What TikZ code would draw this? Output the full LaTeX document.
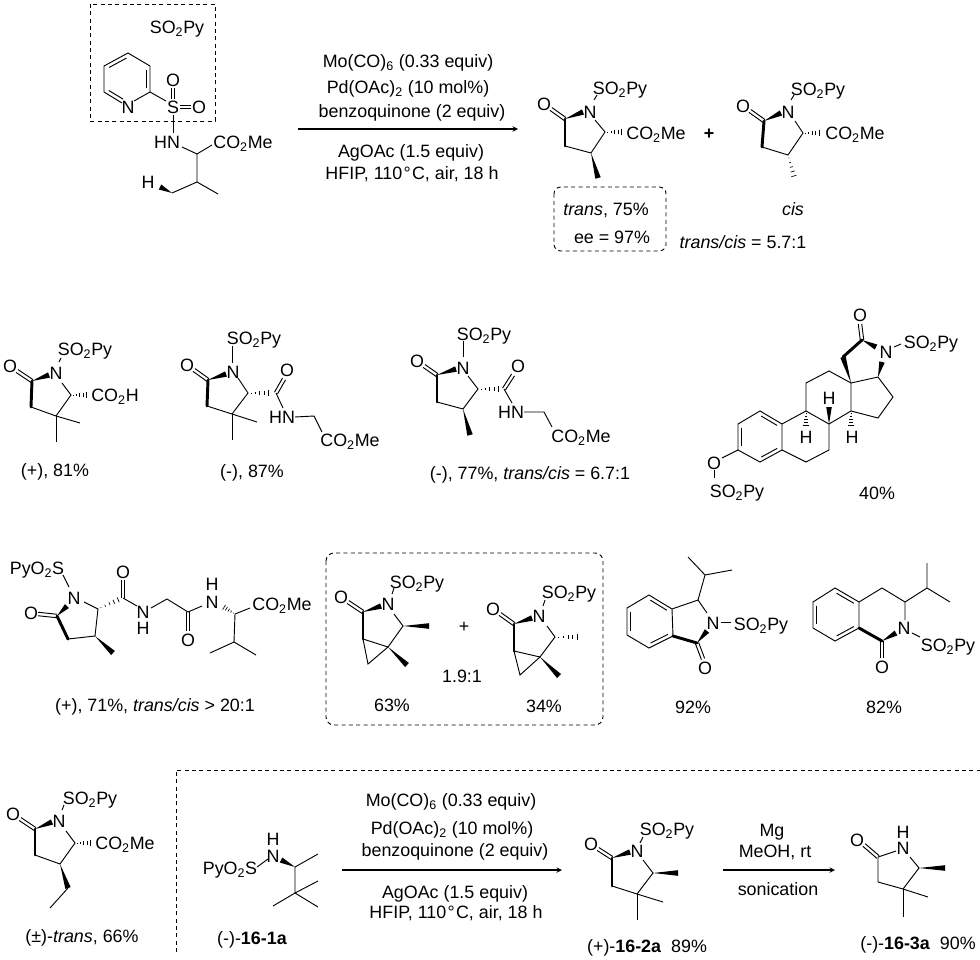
\documentclass[tikz,border=0pt]{standalone}
\usepackage{fontspec}
\setmainfont{Liberation Sans}
\usetikzlibrary{calc}
\tikzset{
    bond/.style={line width=.7pt},
    boldb/.style={line width=2.2pt,line cap=round},
    chem/.style={inner sep=0pt,text height=9.6pt,text depth=0pt,font=\fontsize{13.4}{15}\selectfont},
    dbox/.style={line width=.7pt,dash pattern=on 3pt off 2.5pt},
    rxn/.style={line width=.8pt,-stealth}
}
\newcommand{\SP}{SO\textsubscript{2}Py}
\newcommand{\CM}{CO\textsubscript{2}Me}
\newcommand{\lab}[3]{\node[chem] (#1) at (#2) {#3};}
\newcommand{\wdg}[2]{\fill (#1) -- ($(#2)!2.1pt!90:(#1)$) -- ($(#2)!2.1pt!-90:(#1)$) -- cycle;}
\newcommand{\hsh}[2]{\foreach \t in {.12,.3,...,.96}{
    \pgfmathsetmacro\w{\t*2.4}
    \draw[line width=.5pt] ($(#1)!\t!(#2)!\w pt!90:(#1)$) -- ($(#1)!\t!(#2)!\w pt!-90:(#1)$);
}}
\newcommand{\dbl}[2]{
    \draw[bond] ($(#1)!1.3pt!90:(#2)$) -- ($(#2)!1.3pt!-90:(#1)$);
    \draw[bond] ($(#1)!1.3pt!-90:(#2)$) -- ($(#2)!1.3pt!90:(#1)$);
}
\newcommand{\inr}[2]{\draw[bond] ($(#1)!.14!(#2)!2.8pt!90:(#2)$) -- ($(#1)!.86!(#2)!2.8pt!90:(#2)$);}
\begin{document}
\begin{tikzpicture}[x=.75pt,y=-.75pt]
    \useasboundingbox (0,0) rectangle (980,959);

    % substrate
    \draw[dbox] (90,4) rectangle (215,121);
    \lab{s1}{177,27}{\SP}
    \lab{n1}{128,107}{N}
    \lab{su}{173,107}{S}
    \lab{o1}{173,80}{O}
    \lab{o2}{199,107}{O}
    \lab{hn}{167,142}{HN}
    \lab{c1}{243,142}{\CM}
    \lab{h1}{148,182}{H}
    \draw[bond] (122,103) -- (104,92) -- (104,66) -- (128,53) -- (150,66) -- (150,92) -- (134,101);
    \inr{128,53}{104,66} \inr{104,92}{124,104} \inr{150,92}{150,66}
    \draw[bond] (150,92) -- (166,101);
    \dbl{173,99}{173,88}
    \dbl{180,107}{191,107}
    \draw[bond] (173,115) -- (173,133);
    \draw[bond] (182,147) -- (197,154) -- (212,145);
    \draw[bond] (197,154) -- (197,182) -- (218,194);
    \draw[bond] (197,182) -- (172,193);
    \wdg{172,193}{160,187}

    % first arrow
    \coordinate (a1s) at (298,129);
    \coordinate (a1e) at (518,129);
    \draw[rxn] (a1s) -- (a1e);
    \lab{m1}{408,61}{Mo(CO)\textsubscript{6} (0.33 equiv)}
    \lab{m2}{408,87}{Pd(OAc)\textsubscript{2} (10 mol\%)}
    \lab{m3}{412,111}{benzoquinone (2 equiv)}
    \lab{m4}{411,151}{AgOAc (1.5 equiv)}
    \lab{m5}{412,173}{HFIP, 110\kern1pt°\kern1pt C, air, 18 h}

    % trans product
    \lab{o3}{544,104}{O}
    \lab{n3}{590,112}{N}
    \lab{s3}{620,88}{\SP}
    \lab{c3}{656,133}{\CM}
    \dbl{551,109}{565,119}
    \wdg{565,119}{583,112}
    \draw[boldb] (565,119) -- (565,146);
    \draw[bond] (565,146) -- (591,153) -- (605,132) -- (595,120);
    \draw[bond] (594,100) -- (597,95);
    \wdg{591,153}{598,178}
    \hsh{605,132}{625,132}
    \lab{pl}{709,133}{\textbf{+}}

    % cis product
    \lab{o4}{743,106}{O}
    \lab{n4}{788,112}{N}
    \lab{s4}{818,89}{\SP}
    \lab{c4}{855,133}{\CM}
    \dbl{750,111}{764,121}
    \wdg{764,121}{781,113}
    \draw[boldb] (764,121) -- (762,147);
    \draw[bond] (762,147) -- (788,155) -- (803,133) -- (795,121);
    \draw[bond] (791,100) -- (794,95);
    \hsh{788,155}{795,180}
    \hsh{803,133}{822,133}
    \draw[dbox,rounded corners=5pt] (554,187) rectangle (666,251);
    \lab{t1}{606,209}{\textit{trans}, 75\%}
    \lab{t2}{612,237}{ee = 97\%}
    \lab{t3}{793,209}{\textit{cis}}
    \lab{t4}{743,242}{\textit{trans/cis} = 5.7:1}

    % acid
    \lab{o5}{10,366}{O}
    \lab{n5}{56,373}{N}
    \lab{s5}{85,349}{\SP}
    \lab{c5}{115,395}{CO\textsubscript{2}H}
    \dbl{17,371}{32,381}
    \wdg{32,381}{49,375}
    \draw[boldb] (32,381) -- (31,407);
    \draw[bond] (31,407) -- (56,416) -- (71,395) -- (62,383);
    \draw[bond] (59,362) -- (61,358);
    \draw[bond] (56,416) -- (80,423);
    \draw[bond] (56,416) -- (56,442);
    \hsh{71,395}{89,395}
    \lab{t5}{55,470}{(+), 81\%}

    % glycine amide
    \lab{o6}{187,365}{O}
    \lab{n6}{233,372}{N}
    \lab{s6}{254,338}{\SP}
    \lab{o7}{287,370}{O}
    \lab{h6}{282,417}{HN}
    \lab{c6}{350,440}{\CM}
    \dbl{194,370}{208,380}
    \wdg{208,380}{226,374}
    \draw[boldb] (208,380) -- (207,406);
    \draw[bond] (207,406) -- (232,414) -- (248,393) -- (238,378);
    \draw[bond] (232,363) -- (232,346);
    \draw[bond] (232,414) -- (257,422);
    \draw[bond] (232,414) -- (232,440);
    \hsh{248,393}{272,393}
    \dbl{276,393}{284,379}
    \draw[bond] (276,393) -- (283,408);
    \draw[bond] (295,417) -- (314,416) -- (322,432);
    \lab{t6}{252,471}{(-), 87\%}

    % methyl glycine amide
    \lab{o8}{417,361}{O}
    \lab{n8}{463,368}{N}
    \lab{s8}{484,334}{\SP}
    \lab{o9}{518,366}{O}
    \lab{h8}{511,412}{HN}
    \lab{c8}{581,436}{\CM}
    \dbl{424,366}{437,375}
    \wdg{437,375}{456,369}
    \draw[boldb] (437,375) -- (437,402);
    \draw[bond] (437,402) -- (463,409) -- (478,389) -- (468,376);
    \draw[bond] (463,357) -- (463,341);
    \wdg{463,409}{470,435}
    \hsh{478,389}{502,389}
    \dbl{504,389}{513,375}
    \draw[bond] (504,389) -- (512,403);
    \draw[bond] (524,412) -- (544,412) -- (552,427);
    \lab{t8}{530,473}{(-), 77\%, \textit{trans/cis} = 6.7:1}

    % steroid
    \draw[bond] (760,411) -- (782,424) -- (782,450) -- (760,462) -- (738,450) -- (738,424) -- cycle;
    \inr{782,424}{760,411} \inr{738,424}{738,450} \inr{760,462}{782,450}
    \draw[bond] (782,424) -- (806,411) -- (829,424) -- (829,450) -- (806,462) -- (782,450);
    \draw[bond] (806,411) -- (806,383) -- (829,371) -- (851,383) -- (851,411) -- (829,424);
    \draw[bond] (851,383) -- (878,377) -- (893,397) -- (878,418) -- (851,411);
    \wdg{851,383}{843,357}
    \draw[boldb] (843,357) -- (862,340);
    \wdg{862,340}{876,347}
    \dbl{862,340}{860,324}
    \wdg{878,377}{882,362}
    \wdg{829,424}{829,407}
    \hsh{806,411}{806,428}
    \hsh{851,411}{851,428}
    \draw[bond] (894,347) -- (901,344);
    \lab{o10}{860,315}{O}
    \lab{n10}{886,352}{N}
    \lab{s10}{931,342}{\SP}
    \lab{h10}{829,398}{H}
    \lab{h11}{806,437}{H}
    \lab{h12}{852,437}{H}
    \lab{o11}{714,463}{O}
    \lab{s11}{737,491}{\SP}
    \draw[bond] (738,450) -- (722,458);
    \draw[bond] (714,470) -- (714,478);
    \lab{t10}{877,493}{40\%}

    % tripeptide
    \lab{s12}{37,568}{PyO\textsubscript{2}S}
    \lab{n12}{74,598}{N}
    \lab{o12}{31,613}{O}
    \lab{o13}{123,572}{O}
    \lab{n13}{143,612}{N}
    \lab{h13}{143,628}{H}
    \lab{o14}{188,640}{O}
    \lab{n14}{212,602}{N}
    \lab{h14}{212,584}{H}
    \lab{c12}{282,604}{\CM}
    \draw[bond] (63,575) -- (69,587);
    \dbl{38,614}{57,616}
    \wdg{57,616}{67,606}
    \draw[boldb] (57,616) -- (68,639);
    \draw[bond] (68,639) -- (95,636) -- (98,609) -- (84,602);
    \wdg{95,636}{113,653}
    \hsh{98,609}{122,598}
    \dbl{123,598}{123,580}
    \draw[bond] (123,598) -- (137,606);
    \draw[bond] (151,608) -- (167,599) -- (188,612) -- (202,606);
    \dbl{188,612}{188,631}
    \hsh{235,614}{222,606}
    \draw[bond] (235,614) -- (250,608);
    \draw[bond] (235,614) -- (234,642) -- (210,653);
    \draw[bond] (234,642) -- (256,655);
    \lab{t12}{155,705}{(+), 71\%, \textit{trans/cis} > 20:1}

    % cyclopropanes
    \draw[dbox,rounded corners=6pt] (326,553) rectangle (603,725);
    \lab{o15}{341,597}{O}
    \lab{n15}{388,604}{N}
    \lab{s15}{417,582}{\SP}
    \dbl{348,602}{363,612}
    \wdg{363,612}{381,606}
    \draw[boldb] (363,612) -- (363,639);
    \draw[bond] (363,639) -- (388,647) -- (403,626) -- (394,614);
    \draw[bond] (363,639) -- (368,664) -- (388,647);
    \draw[bond] (392,594) -- (394,588);
    \wdg{403,626}{429,626}
    \wdg{388,647}{407,665}
    \lab{pl2}{464,626}{+}
    \lab{r1}{462,676}{1.9:1}
    \lab{y1}{392,705}{63\%}
    \lab{o16}{493,609}{O}
    \lab{n16}{539,616}{N}
    \lab{s16}{569,592}{\SP}
    \dbl{500,614}{514,624}
    \wdg{514,624}{532,618}
    \draw[boldb] (514,624) -- (514,651);
    \draw[bond] (514,651) -- (540,657) -- (555,637) -- (547,626);
    \draw[bond] (514,651) -- (520,675) -- (540,657);
    \draw[bond] (543,606) -- (545,600);
    \hsh{555,637}{582,637}
    \wdg{540,657}{559,676}
    \lab{y2}{544,706}{34\%}

    % isoindolinone
    \draw[bond] (649,595) -- (672,609) -- (673,636) -- (649,648) -- (627,635) -- (627,608) -- cycle;
    \inr{672,609}{649,595} \inr{627,608}{627,635} \inr{649,648}{673,636}
    \draw[bond] (672,609) -- (698,600) -- (707,613);
    \draw[boldb] (673,636) -- (697,643);
    \wdg{697,643}{707,631}
    \dbl{697,643}{703,659}
    \draw[bond] (698,600) -- (705,575) -- (688,557);
    \draw[bond] (705,575) -- (732,570);
    \draw[bond] (721,622) -- (731,622);
    \lab{n17}{713,623}{N}
    \lab{s17}{761,624}{\SP}
    \lab{o17}{705,668}{O}
    \lab{y3}{693,707}{92\%}

    % isoquinolinone
    \draw[bond] (835,588) -- (859,602) -- (859,628) -- (835,641) -- (813,628) -- (813,602) -- cycle;
    \inr{859,602}{835,588} \inr{813,602}{813,628} \inr{835,641}{859,628}
    \draw[bond] (859,602) -- (882,588) -- (905,602) -- (905,620);
    \draw[boldb] (859,628) -- (882,641);
    \wdg{882,641}{896,633}
    \dbl{882,641}{882,658}
    \draw[bond] (905,602) -- (927,588) -- (927,563);
    \draw[bond] (927,588) -- (950,602);
    \draw[bond] (912,633) -- (920,637);
    \lab{n18}{904,628}{N}
    \lab{s18}{948,645}{\SP}
    \lab{o18}{882,667}{O}
    \lab{y4}{884,707}{82\%}

    % ethyl
    \lab{o19}{13,814}{O}
    \lab{n19}{59,821}{N}
    \lab{s19}{90,798}{\SP}
    \lab{c19}{125,843}{\CM}
    \dbl{20,819}{35,829}
    \wdg{35,829}{52,822}
    \draw[boldb] (35,829) -- (35,855);
    \draw[bond] (35,855) -- (60,864) -- (75,843) -- (66,831);
    \draw[bond] (62,810) -- (64,805);
    \hsh{75,843}{93,843}
    \wdg{60,864}{68,888}
    \draw[bond] (68,888) -- (50,908);
    \lab{t19}{82,936}{(±)-\textit{trans}, 66\%}

    % lower panel
    \draw[dbox] (176,952) -- (176,770) -- (980,770);
    \lab{s20}{230,868}{PyO\textsubscript{2}S}
    \lab{n20}{273,856}{N}
    \lab{h20}{273,839}{H}
    \draw[bond] (257,867) -- (268,859);
    \wdg{295,867}{281,860}
    \draw[bond] (295,867) -- (318,854);
    \draw[bond] (295,867) -- (295,893) -- (318,881);
    \draw[bond] (295,893) -- (318,907);
    \draw[bond] (295,893) -- (273,906);
    \lab{t20}{252,938}{(-)-\textbf{16-1a}}
    \coordinate (a2s) at (342,870);
    \coordinate (a2e) at (562,870);
    \draw[rxn] (a2s) -- (a2e);
    \lab{k1}{451,800}{Mo(CO)\textsubscript{6} (0.33 equiv)}
    \lab{k2}{452,828}{Pd(OAc)\textsubscript{2} (10 mol\%)}
    \lab{k3}{455,850}{benzoquinone (2 equiv)}
    \lab{k4}{455,892}{AgOAc (1.5 equiv)}
    \lab{k5}{456,912}{HFIP, 110\kern1pt°\kern1pt C, air, 18 h}
    \lab{o21}{591,844}{O}
    \lab{n21}{637,851}{N}
    \lab{s21}{667,829}{\SP}
    \dbl{598,849}{612,858}
    \wdg{612,858}{630,852}
    \draw[boldb] (612,858) -- (612,886);
    \draw[bond] (612,886) -- (637,894) -- (653,873) -- (643,860);
    \draw[bond] (640,843) -- (643,837);
    \wdg{653,873}{678,873}
    \draw[bond] (637,894) -- (663,902);
    \draw[bond] (637,894) -- (637,920);
    \lab{t21}{647,946}{(+)-\textbf{16-2a}\ \ 89\%}
    \coordinate (a3s) at (723,870);
    \coordinate (a3e) at (835,870);
    \draw[rxn] (a3s) -- (a3e);
    \lab{q1}{772,830}{Mg}
    \lab{q2}{775,851}{MeOH, rt}
    \lab{q3}{778,889}{sonication}
    \lab{o22}{857,840}{O}
    \lab{n22}{903,848}{N}
    \lab{h22}{903,832}{H}
    \dbl{864,845}{878,857}
    \draw[bond] (878,857) -- (896,851);
    \draw[bond] (878,857) -- (878,882) -- (903,889) -- (919,868) -- (910,857);
    \wdg{919,868}{945,868}
    \draw[bond] (903,889) -- (928,897);
    \draw[bond] (903,889) -- (903,917);
    \lab{t22}{918,943}{(-)-\textbf{16-3a}\ \ 90\%}
\end{tikzpicture}
\end{document}
